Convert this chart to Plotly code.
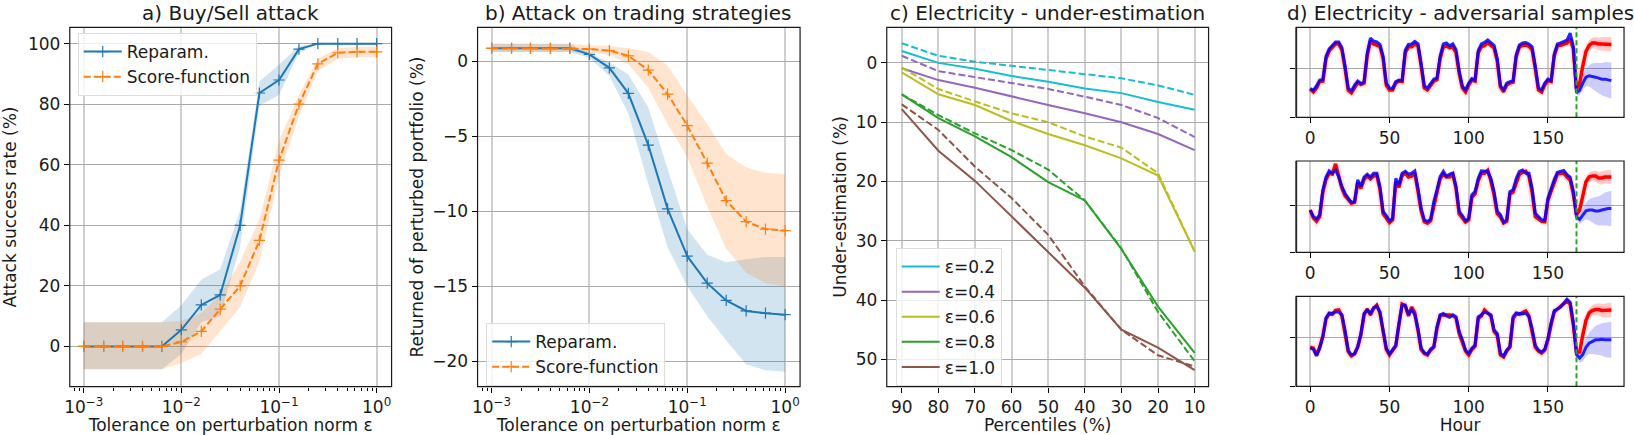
import plotly.graph_objects as go

W, H = 1634, 435

# panels a / b: perturbation tolerance grid
eps = [0.001, 0.0016, 0.0025, 0.004, 0.0063, 0.01, 0.016, 0.025, 0.04, 0.063, 0.1, 0.16, 0.25, 0.4, 0.63, 1.0]

a_rep = [0, 0, 0, 0, 0, 5.5, 13.7, 17, 40, 83.7, 88, 98.2, 100, 100, 100, 100]
a_rep_hi = [8, 8, 8, 8, 8, 13.6, 22, 25.5, 45, 87.5, 93, 99.2, 100, 100, 100, 100]
a_rep_lo = [-7.5, -7.5, -7.5, -7.5, -7.5, -2.5, 8, 10, 33, 79.5, 83, 97, 100, 100, 100, 100]
a_sco = [0, 0, 0, 0, 0, 1.5, 5, 12.3, 20, 35, 61.5, 80, 93.3, 97, 97.3, 97.3]
a_sco_hi = [8, 8, 8, 8, 8, 8.5, 11, 17, 28, 42, 68, 83, 95, 98.5, 99, 99]
a_sco_lo = [-7.5, -7.5, -7.5, -7.5, -7.5, -5.5, -2.5, 5, 13, 28, 56, 76, 91, 95, 95.5, 95.5]

b_rep = [0.85, 0.85, 0.85, 0.85, 0.85, 0.45, -0.45, -2.15, -5.6, -9.85, -13, -14.8, -15.95, -16.65, -16.8, -16.9]
b_rep_hi = [1.15, 1.15, 1.15, 1.15, 1.15, 0.55, -0.1, -0.9, -3.1, -7.2, -11.2, -12.9, -13.4, -13.2, -13.05, -13.05]
b_rep_lo = [0.6, 0.6, 0.6, 0.6, 0.6, 0.2, -1.0, -3.5, -8.2, -12.4, -15, -17, -18.6, -20.2, -20.6, -20.7]
b_sco = [0.85, 0.85, 0.85, 0.85, 0.85, 0.8, 0.7, 0.35, -0.6, -2.2, -4.3, -6.8, -9.3, -10.7, -11.2, -11.3]
b_sco_hi = [1.15, 1.15, 1.15, 1.15, 1.15, 1.05, 1.0, 0.85, 0.6, -0.3, -2.3, -4.2, -6.2, -7.1, -7.45, -7.55]
b_sco_lo = [0.6, 0.6, 0.6, 0.6, 0.6, 0.55, 0.4, -0.2, -1.8, -4.2, -6.4, -9.7, -12.5, -14.1, -14.8, -15]

# panel c
percentiles = [90, 80, 70, 60, 50, 40, 30, 20, 10]
c_names = ["ε=0.2", "ε=0.4", "ε=0.6", "ε=0.8", "ε=1.0"]
c_colors = ["#17becf", "#9467bd", "#bcbd22", "#2ca02c", "#8c564b"]
c_solid = [
    [-2.0, 0, 1, 2.2, 3.2, 4.3, 5.1, 6.6, 7.9],
    [0.9, 2.9, 4.2, 5.7, 7.1, 8.5, 10, 12, 14.7],
    [1.6, 5.3, 7.1, 9.8, 12, 13.9, 16.1, 19, 31.8],
    [5.3, 9.3, 12.4, 15.9, 20.1, 23.2, 31.4, 41.1, 48.9],
    [7.8, 14.8, 19.9, 25.9, 31.8, 37.9, 45, 48, 51.8],
]
c_dash = [
    [-3.3, -1.2, -0.2, 0.55, 1.2, 1.9, 2.6, 3.8, 5.4],
    [-1.2, 1.4, 2.4, 3.4, 4.4, 5.7, 7.1, 9.3, 12.5],
    [0.8, 4.4, 6.5, 8.5, 10, 12.4, 14.3, 18.6, 31.8],
    [5.3, 8.8, 11.9, 14.7, 18, 23.2, 31.3, 42, 50.3],
    [7, 11.3, 17.5, 22.8, 29, 37.7, 45, 49.3, 51.2],
]

# panel d: one value every 2 hours, mid tick = 0, bottom tick = -1
hours = list(range(0, 192, 2))
d1_blue = [-.41, -.45, -.36, -.24, -.23, .25, .40, .47, .54, .54, .42, .05,
           -.41, -.46, -.34, -.26, -.31, -.28, .32, .62, .56, .54, .49, .25,
           -.30, -.40, -.41, -.27, -.24, -.25, .37, .49, .50, .55, .50, .10,
           -.36, -.40, -.32, -.22, -.20, .25, .50, .52, .46, .50, .38, -.05,
           -.36, -.44, -.30, -.21, -.24, .36, .50, .53, .58, .52, .47, .20,
           -.35, -.44, -.30, -.27, -.26, .28, .48, .52, .53, .50, .44, .05,
           -.40, -.44, -.30, -.22, -.25, .30, .50, .52, .55, .58, .72, .45,
           -.50, -.45, -.30, -.18, -.15, -.16, -.18, -.20, -.22, -.22, -.24, -.25]
d1_red = [-.42, -.48, -.40, -.27, -.26, .20, .36, .43, .50, .50, .38, .00,
          -.45, -.50, -.38, -.29, -.33, -.30, .26, .56, .50, .48, .45, .20,
          -.34, -.44, -.44, -.30, -.26, -.27, .32, .44, .44, .50, .46, .05,
          -.40, -.44, -.36, -.26, -.23, .20, .44, .46, .42, .44, .32, -.10,
          -.40, -.48, -.34, -.24, -.26, .32, .44, .47, .52, .47, .42, .15,
          -.38, -.48, -.34, -.30, -.28, .24, .44, .47, .48, .45, .38, .00,
          -.44, -.48, -.34, -.25, -.27, .26, .46, .47, .50, .52, .60, .40,
          -.42, -.30, .05, .35, .47, .52, .52, .50, .50, .50, .50, .49]
d2_blue = [-.11, -.24, -.29, -.20, .33, .60, .73, .68, .75, .60, .40, .25,
           .15, .06, .08, .54, .40, .60, .66, .60, .68, .68, .40, -.13,
           -.22, -.33, -.28, .57, .43, .68, .72, .66, .68, .73, .36, -.06,
           -.31, -.35, -.29, .08, .33, .61, .72, .61, .66, .68, .40, -.13,
           -.22, -.33, -.28, .22, .29, .57, .73, .73, .72, .57, .29, -.13,
           -.20, -.36, -.31, .29, .33, .57, .72, .75, .68, .68, .36, -.17,
           -.25, -.31, -.32, .15, .35, .55, .70, .72, .74, .65, .60, .30,
           -.25, -.30, -.22, -.12, -.10, -.10, -.12, -.12, -.10, -.08, -.07, -.07]
d2_red = [-.10, -.27, -.34, -.24, .28, .55, .68, .66, .88, .62, .36, .20,
          .12, .04, .06, .48, .36, .55, .62, .56, .62, .64, .34, -.18,
          -.27, -.37, -.31, .50, .38, .63, .68, .60, .62, .68, .30, -.12,
          -.35, -.38, -.33, .02, .28, .56, .66, .60, .60, .66, .36, -.18,
          -.27, -.36, -.31, .17, .24, .52, .68, .68, .74, .52, .22, -.18,
          -.25, -.38, -.34, .24, .28, .50, .66, .70, .72, .62, .28, -.24,
          -.30, -.34, -.35, .10, .30, .50, .66, .68, .68, .60, .54, .24,
          -.20, -.10, .20, .50, .60, .62, .62, .58, .58, .60, .60, .60]
d3_blue = [-.22, -.24, -.38, -.22, .01, .40, .50, .49, .52, .52, .46, .15,
           -.27, -.36, -.33, -.19, .08, .49, .56, .49, .61, .64, .52, .15,
           -.22, -.34, -.26, -.16, .29, .66, .66, .46, .57, .46, .18, -.22,
           -.31, -.34, -.24, -.19, .22, .46, .49, .44, .41, .46, .42, .12,
           -.05, -.26, -.33, -.22, -.16, .42, .46, .52, .49, .46, .15, .08,
           -.33, -.38, -.26, -.19, .42, .50, .49, .48, .50, .42, .18, -.16,
           -.26, -.30, -.24, -.02, .30, .55, .58, .62, .70, .78, .72, .30,
           -.35, -.42, -.35, -.20, -.12, -.08, -.05, -.05, -.04, -.05, -.05, -.05]
d3_red = [-.20, -.22, -.36, -.20, .03, .38, .48, .47, .55, .56, .44, .12,
          -.29, -.38, -.34, -.20, .05, .46, .58, .46, .59, .66, .50, .12,
          -.24, -.36, -.28, -.18, .26, .68, .64, .44, .62, .50, .14, -.25,
          -.33, -.36, -.26, -.20, .18, .44, .46, .46, .46, .44, .40, .08,
          -.08, -.28, -.36, -.25, -.18, .38, .44, .56, .50, .44, .12, .04,
          -.36, -.40, -.28, -.20, .38, .48, .47, .50, .54, .44, .14, -.20,
          -.28, -.32, -.26, -.05, .26, .52, .58, .64, .70, .74, .68, .26,
          -.30, -.30, .05, .35, .50, .55, .57, .57, .55, .55, .56, .56]
# forecast spread after the dashed line, hours 168..190
band_hours = [168, 170, 172, 174, 176, 178, 180, 182, 184, 186, 188, 190]
blue_spread = [.05, .10, .14, .18, .22, .26, .29, .31, .33, .35, .36, .37]
red_spread = [.03, .05, .06, .08, .10, .11, .12, .13, .14, .14, .15, .15]

BLUE, ORANGE = "#1f77b4", "#ff7f0e"
BLUE_FILL, ORANGE_FILL = "rgba(31,119,180,0.2)", "rgba(255,127,14,0.2)"
FONT = "DejaVu Sans"
TEXT = "#1a1a1a"
DASH = "7px,3px"


def xdom(x0, x1):
    return [x0 / W, x1 / W]


def ydom(top, bottom):
    return [1 - bottom / H, 1 - top / H]


fig = go.Figure()


def band(lo, hi, fill, x, xa, ya):
    fig.add_trace(go.Scatter(x=x + x[::-1], y=hi + lo[::-1], fill="toself", fillcolor=fill,
                             mode="lines", line=dict(width=0), showlegend=False,
                             hoverinfo="skip", xaxis=xa, yaxis=ya))


def marked(y, name, color, dash, xa, ya, leg):
    fig.add_trace(go.Scatter(x=eps, y=y, name=name, mode="lines+markers", legend=leg,
                             line=dict(color=color, width=2, dash=dash),
                             marker=dict(symbol="cross-thin", size=8, line=dict(width=1.2, color=color)),
                             xaxis=xa, yaxis=ya))


# a) and b)
band(a_rep_lo, a_rep_hi, BLUE_FILL, eps, "x", "y")
band(a_sco_lo, a_sco_hi, ORANGE_FILL, eps, "x", "y")
marked(a_rep, "Reparam.", BLUE, "solid", "x", "y", "legend")
marked(a_sco, "Score-function", ORANGE, DASH, "x", "y", "legend")

band(b_rep_lo, b_rep_hi, BLUE_FILL, eps, "x2", "y2")
band(b_sco_lo, b_sco_hi, ORANGE_FILL, eps, "x2", "y2")
marked(b_rep, "Reparam.", BLUE, "solid", "x2", "y2", "legend2")
marked(b_sco, "Score-function", ORANGE, DASH, "x2", "y2", "legend2")

# c)
for name, color, solid, dashed in zip(c_names, c_colors, c_solid, c_dash):
    fig.add_trace(go.Scatter(x=percentiles, y=dashed, mode="lines", showlegend=False,
                             line=dict(color=color, width=2, dash=DASH), xaxis="x3", yaxis="y3"))
    fig.add_trace(go.Scatter(x=percentiles, y=solid, mode="lines", name=name, legend="legend3",
                             line=dict(color=color, width=2), xaxis="x3", yaxis="y3"))

# d)
rows = [(d1_blue, d1_red, "x4", "y4"), (d2_blue, d2_red, "x5", "y5"), (d3_blue, d3_red, "x6", "y6")]
for blue, red, xa, ya in rows:
    k = hours.index(band_hours[0])
    b_tail, r_tail = blue[k:], red[k:]
    band([v - s for v, s in zip(r_tail, red_spread)], [v + s for v, s in zip(r_tail, red_spread)],
         "rgba(255,0,0,0.2)", band_hours, xa, ya)
    band([v - s for v, s in zip(b_tail, blue_spread)], [v + s for v, s in zip(b_tail, blue_spread)],
         "rgba(0,0,255,0.2)", band_hours, xa, ya)
    fig.add_trace(go.Scatter(x=hours, y=red, mode="lines", showlegend=False, opacity=0.1,
                             line=dict(color="#ff0000", width=7), xaxis=xa, yaxis=ya))
    fig.add_trace(go.Scatter(x=hours, y=red, mode="lines", showlegend=False,
                             line=dict(color="#ff0000", width=3.5), xaxis=xa, yaxis=ya))
    fig.add_trace(go.Scatter(x=hours, y=blue, mode="lines", showlegend=False,
                             line=dict(color="rgba(0,0,255,0.85)", width=3), xaxis=xa, yaxis=ya))

common = dict(showline=False, ticks="outside", ticklen=5, tickwidth=1, tickcolor="#000",
              tickfont=dict(size=17, color=TEXT), zeroline=False, showgrid=True)
xgrid = dict(gridcolor="#cfcfcf", gridwidth=2)
ygrid = dict(gridcolor="#aaaaaa", gridwidth=1)
label_font = dict(size=17, color=TEXT)

log_vals = [0.001, 0.01, 0.1, 1]
log_text = ["10<sup>−3</sup>", "10<sup>−2</sup>", "10<sup>−1</sup>", "10<sup>0</sup>"]
minor_vals = [m * d for d in (0.001, 0.01, 0.1) for m in range(2, 10)] + [0.0008, 0.0009]
xlabel = "Tolerance on perturbation norm ε"


def log_axis(dom):
    return dict(common, **xgrid, type="log", domain=dom, range=[-3.143, 0.153], tickvals=log_vals,
                ticktext=log_text, minor=dict(tickvals=minor_vals, ticks="outside", ticklen=3, tickcolor="#000"),
                title=dict(text=xlabel, font=label_font, standoff=3))


def legend_at(x, y):
    return dict(x=x / W, y=1 - y / H, xanchor="left", yanchor="top", bgcolor="rgba(255,255,255,0.8)",
                bordercolor="#dddddd", borderwidth=1, font=dict(size=17), itemwidth=38)


fig.update_layout(
    width=W, height=H, margin=dict(l=0, r=0, t=0, b=0), paper_bgcolor="white", plot_bgcolor="white",
    font=dict(family=FONT, color=TEXT),
    xaxis=dict(log_axis(xdom(64, 387)), anchor="y"),
    yaxis=dict(common, **ygrid, domain=ydom(27.3, 386.7), range=[-13.3, 105.4], anchor="x",
               tickvals=[0, 20, 40, 60, 80, 100],
               title=dict(text="Attack success rate (%)", font=label_font, standoff=6)),
    xaxis2=dict(log_axis(xdom(473.3, 797)), anchor="y2"),
    yaxis2=dict(common, **ygrid, domain=ydom(27.3, 386.7), range=[-21.7, 2.25], anchor="x2",
                tickvals=[0, -5, -10, -15, -20], ticktext=["0", "−5", "−10", "−15", "−20"],
                title=dict(text="Returned of perturbed portfolio (%)", font=label_font, standoff=4)),
    xaxis3=dict(common, **xgrid, domain=xdom(884, 1207), range=[94.1, 6.2], anchor="y3", tickvals=percentiles,
                title=dict(text="Percentiles (%)", font=label_font, standoff=3)),
    yaxis3=dict(common, **ygrid, domain=ydom(27.3, 386.7), range=[54.6, -6], anchor="x3",
                tickvals=[0, 10, 20, 30, 40, 50],
                title=dict(text="Under-estimation (%)", font=label_font, standoff=4)),
    legend=legend_at(72, 33),
    legend2=legend_at(482, 323),
    legend3=legend_at(893, 248),
)

d_rows = [(27.3, 117.3, [-1, 0.84]), (161, 252.3, [-1, 0.94]), (296.3, 386.3, [-1, 0.84])]
for i, (top, bottom, yr) in enumerate(d_rows):
    n = i + 4
    xa = dict(common, **xgrid, domain=xdom(1295, 1624), range=[-8.8, 198], anchor=f"y{n}", tickvals=[0, 50, 100, 150])
    if i == 2:
        xa["title"] = dict(text="Hour", font=label_font, standoff=3)
    ya = dict(common, **ygrid, domain=ydom(top, bottom), range=yr, anchor=f"x{n}", tickvals=[-1, 0],
              showticklabels=False)
    fig.update_layout({f"xaxis{n}": xa, f"yaxis{n}": ya})
    fig.add_shape(type="line", x0=168, x1=168, y0=0, y1=1, xref=f"x{n}", yref=f"y{n} domain",
                  line=dict(color="#2ca02c", width=2, dash="5px,3px"), layer="above")
    fig.add_shape(type="line", x0=0, x1=0, y0=0, y1=1, xref=f"x{n} domain", yref=f"y{n} domain",
                  line=dict(color="#666666", width=2), layer="above")

# panel frames
for s in ["", "2", "3", "4", "5", "6"]:
    fig.add_shape(type="rect", x0=0, x1=1, y0=0, y1=1, xref=f"x{s} domain", yref=f"y{s} domain",
                  line=dict(color="#1a1a1a", width=1.2), layer="above")

titles = [("a) Buy/Sell attack", 225), ("b) Attack on trading strategies", 635),
          ("c) Electricity - under-estimation", 1045), ("d) Electricity - adversarial samples", 1460)]
for text, cx in titles:
    fig.add_annotation(text=text, x=cx / W, y=1 - 13 / H, xref="paper", yref="paper", showarrow=False,
                       xanchor="center", yanchor="middle", font=dict(size=20, color=TEXT))

fig.write_html("out.html", config={"displayModeBar": False}, post_script="document.body.style.margin='0';")
